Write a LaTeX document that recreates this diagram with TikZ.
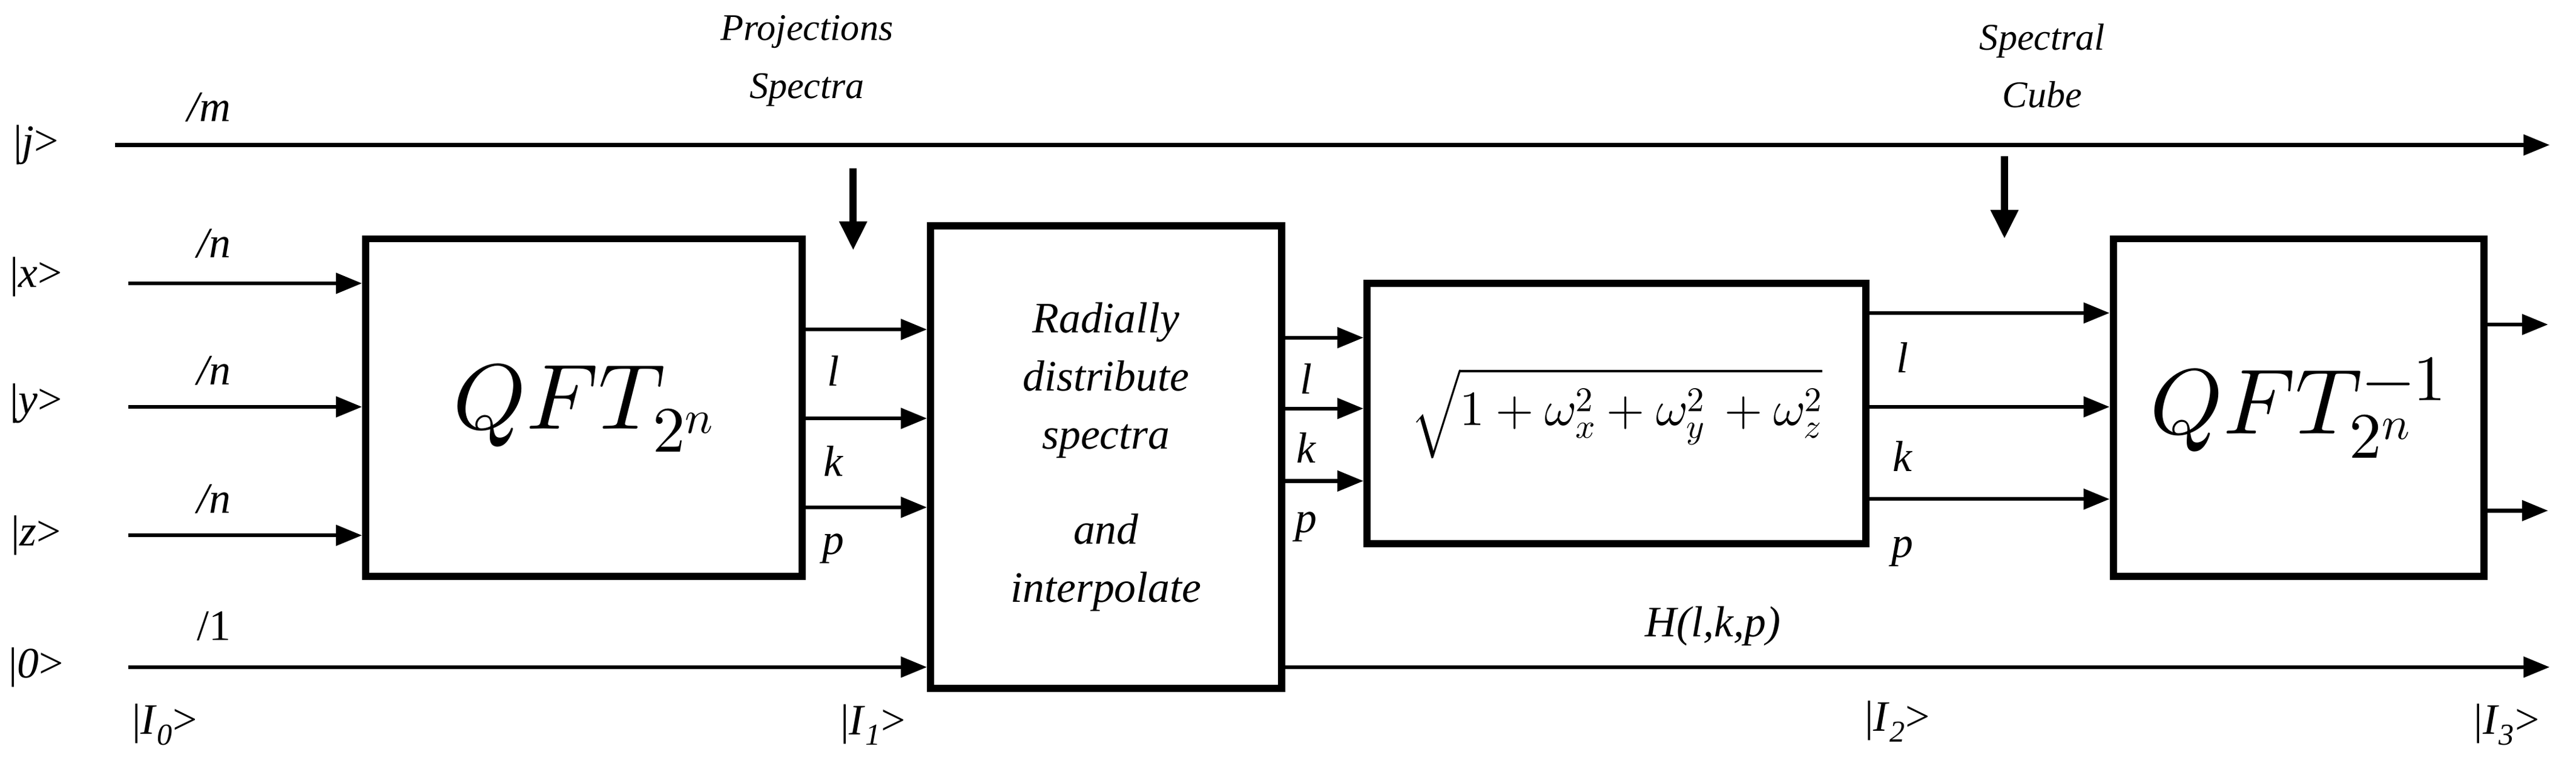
\documentclass[tikz,border=0pt]{standalone}
\usepackage{amsmath}
\usepackage{fontspec}
\usepackage{unicode-math}
\setmainfont{Liberation Serif}
\setmathfont{Latin Modern Math}
\usetikzlibrary{arrows.meta}
\begin{document}
\begin{tikzpicture}[x=0.04cm,y=-0.04cm,
  box/.style={draw,line width=5pt,inner sep=0pt},
  wire/.style={line width=2.6pt,-{Triangle[length=18pt,width=14pt]}},
  lbl/.style={font=\fontsize{30}{36}\selectfont\itshape,inner sep=0pt},
  ket/.style={font=\fontsize{30}{36}\selectfont,inner sep=0pt}]
\useasboundingbox (0,0) rectangle (1564,472);
% boxes
\node[box,minimum width=265*0.04cm,minimum height=205*0.04cm] (q1) at (354.5,247.5) {\fontsize{64}{70}\selectfont $QFT_{2^n}$};
\node[box,minimum width=213*0.04cm,minimum height=281*0.04cm,align=center,font=\fontsize{30}{40}\selectfont\itshape] (rd) at (671.5,277.5) {Radially\\distribute\\spectra\\[26pt]and\\interpolate};
\node[box,minimum width=303*0.04cm,minimum height=158*0.04cm] (sq) at (981.5,251) {\fontsize{34}{40}\selectfont $\sqrt{1+\omega_x^2+\omega_y^2\,+\omega_z^2}$};
\node[box,minimum width=225*0.04cm,minimum height=205*0.04cm] (q2) at (1395.5,247.5) {\fontsize{64}{70}\selectfont $QFT_{2^n}^{-1}$};
% kets
\node[ket] (j) at (22,88) {|\textit{j}>};
\node[ket] (x) at (22,168) {|\textit{x}>};
\node[ket] (y) at (22,245) {|\textit{y}>};
\node[ket] (z) at (22,325) {|\textit{z}>};
\node[ket] (o) at (22,405) {|\textit{0}>};
\coordinate (jend) at (1548,88);
\draw[wire] (70,88) -- (jend);
\draw[wire] (78,172) -- (q1.west|-0,172);
\draw[wire] (78,247) -- (q1.west|-0,247);
\draw[wire] (78,325) -- (q1.west|-0,325);
\draw[wire] (78,405) -- (rd.west|-0,405);
\node[lbl] at (127,65) {/m};
\node[lbl] at (130,148) {/n};
\node[lbl] at (130,225) {/n};
\node[lbl] at (130,303) {/n};
\node[lbl,font=\fontsize{30}{36}\selectfont] at (130,380) {/1};
% q1 -> rd
\foreach \yy/\t/\ly in {200/l/225,254/k/280,308/p/333}{
  \draw[wire] (q1.east|-0,\yy) -- (rd.west|-0,\yy);
  \node[lbl] at (506,\ly) {\t};}
\foreach \yy/\t/\ly in {205/l/230,248/k/272,292/p/320}{
  \draw[wire] (rd.east|-0,\yy) -- (sq.west|-0,\yy);
  \node[lbl] at (793,\ly) {\t};}
\foreach \yy/\t/\ly in {190/l/217,247/k/277,303/p/335}{
  \draw[wire] (sq.east|-0,\yy) -- (q2.west|-0,\yy);
  \node[lbl] at (1155,\ly) {\t};}
\coordinate (o1) at (1547,197); \coordinate (o2) at (1547,310); \coordinate (o3) at (1548,405);
\draw[wire] (q2.east|-o1) -- (o1);
\draw[wire] (q2.east|-o2) -- (o2);
\draw[wire] (rd.east|-o3) -- (o3);
\node[lbl] at (1040,380) {H(l,k,p)};
% annotations
\coordinate (a1) at (518,102); \coordinate (a2) at (1217,95);
\draw[line width=5pt,-{Triangle[length=20pt,width=18pt]}] (a1) -- (518,152);
\draw[line width=5pt,-{Triangle[length=20pt,width=18pt]}] (a2) -- (1217,145);
\node[lbl,align=center,font=\fontsize{26}{40}\selectfont\itshape] at (490,37) {Projections\\Spectra};
\node[lbl,align=center,font=\fontsize{26}{40}\selectfont\itshape] at (1240,40) {Spectral\\Cube};
\node[ket] at (100,440) {|\textit{I}\textsubscript{\textit{0}}>};
\node[ket] at (530,440) {|\textit{I}\textsubscript{\textit{1}}>};
\node[ket] at (1152,438) {|\textit{I}\textsubscript{\textit{2}}>};
\node[ket] at (1522,440) {|\textit{I}\textsubscript{\textit{3}}>};
\end{tikzpicture}
\end{document}
